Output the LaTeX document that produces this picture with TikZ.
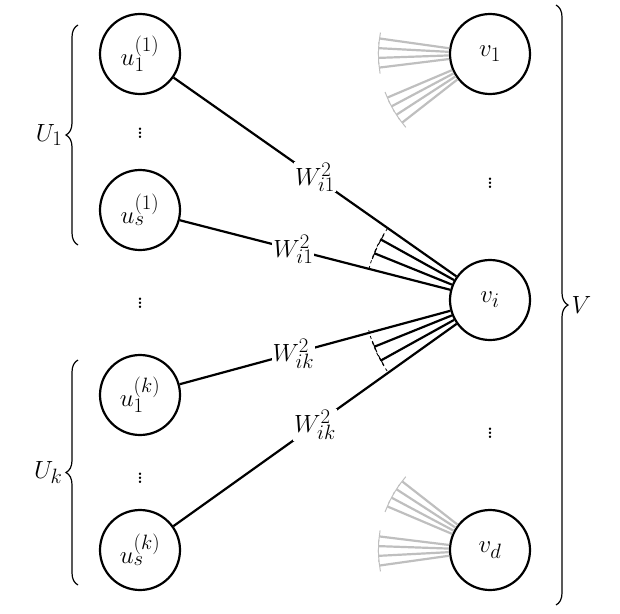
\documentclass[tikz,border=0pt]{standalone}
\usetikzlibrary{decorations.pathreplacing,arrows.meta,calc}
\newcommand{\bigfont}{\fontsize{30}{36}\selectfont}
\begin{document}
\begin{tikzpicture}[x=1pt,y=1pt,
  neuron/.style={circle, draw, line width=2.2pt, minimum size=80pt, inner sep=0pt, font=\bigfont},
  conn/.style={line width=2.2pt},
  stub/.style={line width=2.2pt, -{Bar[width=12pt,line width=1pt]}},
  gstub/.style={gray!50, line width=2.2pt, -{Bar[width=12pt,line width=1pt]}},
  wlab/.style={fill=white, inner sep=1pt, font=\bigfont},
  brc/.style={decorate, decoration={brace, amplitude=12pt}, line width=1.2pt},
  dots/.style={font=\bigfont}]
\useasboundingbox (0,0) rectangle (620,-613);
% neurons
\node[neuron] (u11) at (140,-54) {$u_1^{(1)}$};
\node[neuron] (us1) at (140,-210) {$u_s^{(1)}$};
\node[neuron] (u1k) at (140,-395) {$u_1^{(k)}$};
\node[neuron] (usk) at (140,-550) {$u_s^{(k)}$};
\node[neuron] (v1) at (490,-54) {$v_1$};
\node[neuron] (vi) at (490,-300) {$v_i$};
\node[neuron] (vd) at (490,-550) {$v_d$};
\node[dots] (d1) at (140,-130) {$\vdots$};
\node[dots] (d2) at (140,-300) {$\vdots$};
\node[dots] (d3) at (140,-475) {$\vdots$};
\node[dots] (d4) at (490,-180) {$\vdots$};
\node[dots] (d5) at (490,-430) {$\vdots$};
% extra stubs at v_i
\foreach \a in {151,158} \draw[stub] (vi.\a) -- ($(vi)+(\a:125)$);
\foreach \a in {202,209} \draw[stub] (vi.\a) -- ($(vi)+(\a:125)$);
\draw[dashed, line width=0.8pt] ($(vi)+(145:125)$) arc[start angle=145, end angle=166, radius=125];
\draw[dashed, line width=0.8pt] ($(vi)+(194:125)$) arc[start angle=194, end angle=215, radius=125];
% connections
\draw[conn] (u11) -- node[wlab, pos=0.5] {$W_{i1}^2$} (vi);
\draw[conn] (us1) -- node[wlab, pos=0.42] {$W_{i1}^2$} (vi);
\draw[conn] (u1k) -- node[wlab, pos=0.42] {$W_{ik}^2$} (vi);
\draw[conn] (usk) -- node[wlab, pos=0.5] {$W_{ik}^2$} (vi);
% gray stubs
\foreach \a in {172,177,182,187,203,208,213,218}
  \draw[gstub] (v1.\a) -- ($(v1)+(\a:112)$);
\foreach \a in {142,147,152,157,173,178,183,188}
  \draw[gstub] (vd.\a) -- ($(vd)+(\a:112)$);
% braces
\draw[brc] (78,-245) -- (78,-25) node[coordinate, midway] (b1) {};
\node[font=\bigfont, left=12pt] (U1) at (b1) {$U_1$};
\draw[brc] (78,-585) -- (78,-360) node[coordinate, midway] (b2) {};
\node[font=\bigfont, left=12pt] (Uk) at (b2) {$U_k$};
\draw[brc] (556,-5) -- (556,-605) node[coordinate, midway] (b3) {};
\node[font=\bigfont, right=12pt] (V) at (b3) {$V$};
\end{tikzpicture}
\end{document}
